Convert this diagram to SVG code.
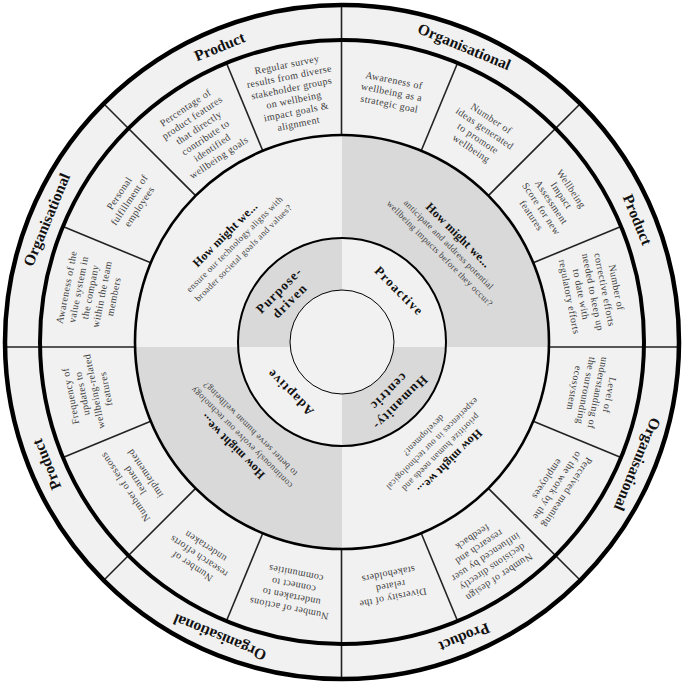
<svg xmlns="http://www.w3.org/2000/svg" width="685" height="685" viewBox="0 0 685 685">
<style>
.seg{font-family:"Liberation Serif","Times New Roman",serif;font-size:10px;letter-spacing:0.35px;fill:#404040;text-anchor:middle}
.lab{font-family:"Liberation Serif","Times New Roman",serif;font-size:15.5px;font-weight:bold;fill:#111;text-anchor:middle}
.hmw{font-family:"Liberation Serif","Times New Roman",serif;font-size:12px;font-weight:bold;letter-spacing:0.2px;fill:#111;text-anchor:middle}
.sub{font-family:"Liberation Serif","Times New Roman",serif;font-size:9px;letter-spacing:0.3px;fill:#444;text-anchor:middle}
.core{font-family:"Liberation Serif","Times New Roman",serif;font-size:13px;font-weight:bold;letter-spacing:1.2px;fill:#111;text-anchor:middle}
.div{stroke:#222;stroke-width:1.6}
.ring{fill:none;stroke:#000}
</style>
<defs>
<clipPath id="cTL"><rect x="0" y="0" width="342" height="347"/></clipPath>
<clipPath id="cTR"><rect x="342" y="0" width="343" height="347"/></clipPath>
<clipPath id="cBL"><rect x="0" y="347" width="342" height="338"/></clipPath>
<clipPath id="cBR"><rect x="342" y="347" width="343" height="338"/></clipPath>
</defs>
<g id="background">
<circle cx="342" cy="342" r="338" fill="#f1f1f1"/>
<circle cx="342" cy="342" r="207" fill="#d9d9d9" clip-path="url(#cTR)"/>
<circle cx="342" cy="342" r="207" fill="#d9d9d9" clip-path="url(#cBL)"/>
<circle cx="342" cy="342" r="104" fill="#f1f1f1"/>
<circle cx="342" cy="342" r="104" fill="#d9d9d9" clip-path="url(#cTL)"/>
<circle cx="342" cy="342" r="104" fill="#d9d9d9" clip-path="url(#cBR)"/>
<circle cx="342" cy="342" r="52" fill="#f1f1f1"/>
</g>
<g id="connectors">
<line class="div" x1="341.5" y1="4" x2="341.5" y2="135"/>
<line class="div" x1="341.5" y1="549" x2="341.5" y2="680"/>
<line class="div" x1="4" y1="347" x2="135" y2="347"/>
<line class="div" x1="549" y1="347" x2="680" y2="347"/>
<line class="div" x1="342" y1="4" x2="342" y2="135" transform="rotate(45 342 342)"/>
<line class="div" x1="342" y1="4" x2="342" y2="135" transform="rotate(135 342 342)"/>
<line class="div" x1="342" y1="4" x2="342" y2="135" transform="rotate(225 342 342)"/>
<line class="div" x1="342" y1="4" x2="342" y2="135" transform="rotate(315 342 342)"/>
<line class="div" x1="342" y1="40" x2="342" y2="135" transform="rotate(22.5 342 342)"/>
<line class="div" x1="342" y1="40" x2="342" y2="135" transform="rotate(67.5 342 342)"/>
<line class="div" x1="342" y1="40" x2="342" y2="135" transform="rotate(112.5 342 342)"/>
<line class="div" x1="342" y1="40" x2="342" y2="135" transform="rotate(157.5 342 342)"/>
<line class="div" x1="342" y1="40" x2="342" y2="135" transform="rotate(202.5 342 342)"/>
<line class="div" x1="342" y1="40" x2="342" y2="135" transform="rotate(247.5 342 342)"/>
<line class="div" x1="342" y1="40" x2="342" y2="135" transform="rotate(292.5 342 342)"/>
<line class="div" x1="342" y1="40" x2="342" y2="135" transform="rotate(337.5 342 342)"/>
</g>
<g id="rings">
<circle class="ring" cx="342" cy="342" r="337" stroke-width="4.5"/>
<circle class="ring" cx="342" cy="342" r="302" stroke-width="4"/>
<circle class="ring" cx="342" cy="342" r="207" stroke-width="2.6"/>
<circle class="ring" cx="342" cy="342" r="104" stroke-width="2"/>
<circle class="ring" cx="342" cy="342" r="52" stroke-width="1"/>
</g>
<g id="outer-labels">
<g id="label-1" transform="rotate(22.5 342 342)"><text class="lab" x="342" y="27.5">Organisational</text></g>
<g id="label-2" transform="rotate(67.5 342 342)"><text class="lab" x="342" y="27.5">Product</text></g>
<g id="label-3" transform="rotate(112.5 342 342)"><text class="lab" x="342" y="27.5">Organisational</text></g>
<g id="label-4" transform="rotate(157.5 342 342)"><text class="lab" x="342" y="27.5">Product</text></g>
<g id="label-5" transform="rotate(202.5 342 342)"><text class="lab" x="342" y="27.5">Organisational</text></g>
<g id="label-6" transform="rotate(247.5 342 342)"><text class="lab" x="342" y="27.5">Product</text></g>
<g id="label-7" transform="rotate(292.5 342 342)"><text class="lab" x="342" y="27.5">Organisational</text></g>
<g id="label-8" transform="rotate(337.5 342 342)"><text class="lab" x="342" y="27.5">Product</text></g>
</g>
<g id="segments">
<g id="seg-01" transform="rotate(11.25 342 342)"><text class="seg"><tspan x="342" y="78.5">Awareness of</tspan><tspan x="342" y="90.5">wellbeing as a</tspan><tspan x="342" y="102.5">strategic goal</tspan></text></g>
<g id="seg-02" transform="rotate(33.75 342 342)"><text class="seg"><tspan x="342" y="76.5">Number of</tspan><tspan x="342" y="88.5">ideas generated</tspan><tspan x="342" y="100.5">to promote</tspan><tspan x="342" y="112.5">wellbeing</tspan></text></g>
<g id="seg-03" transform="rotate(56.25 342 342)"><text class="seg"><tspan x="342" y="69.5">Wellbeing</tspan><tspan x="342" y="81.5">Impact</tspan><tspan x="342" y="93.5">Assessment</tspan><tspan x="342" y="105.5">Score for new</tspan><tspan x="342" y="117.5">features</tspan></text></g>
<g id="seg-04" transform="rotate(78.75 342 342)"><text class="seg"><tspan x="342" y="65.5">Number of</tspan><tspan x="342" y="77.5">corrective efforts</tspan><tspan x="342" y="89.5">needed to keep up</tspan><tspan x="342" y="101.5">to date with</tspan><tspan x="342" y="113.5">regulatory efforts</tspan></text></g>
<g id="seg-05" transform="rotate(101.25 342 342)"><text class="seg"><tspan x="342" y="72.5">Level of</tspan><tspan x="342" y="84.5">understanding of</tspan><tspan x="342" y="96.5">the surrounding</tspan><tspan x="342" y="108.5">ecosystem</tspan></text></g>
<g id="seg-06" transform="rotate(123.75 342 342)"><text class="seg"><tspan x="342" y="74.5">Perceived meaning</tspan><tspan x="342" y="86.5">of the work by the</tspan><tspan x="342" y="98.5">employees</tspan></text></g>
<g id="seg-07" transform="rotate(146.25 342 342)"><text class="seg"><tspan x="342" y="62.5">Number of design</tspan><tspan x="342" y="74.5">decisions directly</tspan><tspan x="342" y="86.5">influenced by user</tspan><tspan x="342" y="98.5">research and</tspan><tspan x="342" y="110.5">feedback</tspan></text></g>
<g id="seg-08" transform="rotate(168.75 342 342)"><text class="seg"><tspan x="342" y="84.5">Diversity of the</tspan><tspan x="342" y="96.5">related</tspan><tspan x="342" y="108.5">stakeholders</tspan></text></g>
<g id="seg-09" transform="rotate(191.25 342 342)"><text class="seg"><tspan x="342" y="73.5">Number of actions</tspan><tspan x="342" y="85.5">undertaken to</tspan><tspan x="342" y="97.5">connect to</tspan><tspan x="342" y="109.5">communities</tspan></text></g>
<g id="seg-10" transform="rotate(213.75 342 342)"><text class="seg"><tspan x="342" y="75.5">Number of</tspan><tspan x="342" y="87.5">research efforts</tspan><tspan x="342" y="99.5">undertaken</tspan></text></g>
<g id="seg-11" transform="rotate(236.25 342 342)"><text class="seg"><tspan x="342" y="84.5">Number of lessons</tspan><tspan x="342" y="96.5">learned</tspan><tspan x="342" y="108.5">implemented</tspan></text></g>
<g id="seg-12" transform="rotate(258.75 342 342)"><text class="seg"><tspan x="342" y="68.5">Frequency of</tspan><tspan x="342" y="80.5">updates to</tspan><tspan x="342" y="92.5">wellbeing-related</tspan><tspan x="342" y="104.5">features</tspan></text></g>
<g id="seg-13" transform="rotate(281.25 342 342)"><text class="seg"><tspan x="342" y="64.5">Awareness of the</tspan><tspan x="342" y="76.5">value system in</tspan><tspan x="342" y="88.5">the company</tspan><tspan x="342" y="100.5">within the team</tspan><tspan x="342" y="112.5">members</tspan></text></g>
<g id="seg-14" transform="rotate(303.75 342 342)"><text class="seg"><tspan x="342" y="77.5">Personal</tspan><tspan x="342" y="89.5">fulfillment of</tspan><tspan x="342" y="101.5">employees</tspan></text></g>
<g id="seg-15" transform="rotate(326.25 342 342)"><text class="seg"><tspan x="342" y="63.5">Percentage of</tspan><tspan x="342" y="75.5">product features</tspan><tspan x="342" y="87.5">that directly</tspan><tspan x="342" y="99.5">contribute to</tspan><tspan x="342" y="111.5">identified</tspan><tspan x="342" y="123.5">wellbeing goals</tspan></text></g>
<g id="seg-16" transform="rotate(348.75 342 342)"><text class="seg"><tspan x="342" y="62.5">Regular survey</tspan><tspan x="342" y="74.5">results from diverse</tspan><tspan x="342" y="86.5">stakeholder groups</tspan><tspan x="342" y="98.5">on wellbeing</tspan><tspan x="342" y="110.5">impact goals &amp;</tspan><tspan x="342" y="122.5">alignment</tspan></text></g>
</g>
<g id="how-might-we">
<g id="hmw-tl" transform="translate(225 234.5) rotate(-45)"><text class="hmw" x="0" y="4">How might we...</text><text class="sub"><tspan x="0" y="16.5">ensure our technology aligns with</tspan><tspan x="0" y="29">broader societal goals and values?</tspan></text></g>
<g id="hmw-tr" transform="translate(458.3 235) rotate(45)"><text class="hmw" x="0" y="4">How might we...</text><text class="sub"><tspan x="0" y="16.5">anticipate and address potential</tspan><tspan x="0" y="29">wellbeing impacts before they occur?</tspan></text></g>
<g id="hmw-br" transform="translate(450 461.7) rotate(135)"><text class="hmw" x="0" y="4">How might we...</text><text class="sub"><tspan x="0" y="16">prioritize human needs and</tspan><tspan x="0" y="28">experiences in our technological</tspan><tspan x="0" y="40">development?</tspan></text></g>
<g id="hmw-bl" transform="translate(232.3 446.7) rotate(225)"><text class="hmw" x="0" y="4">How might we...</text><text class="sub"><tspan x="0" y="16">continuously evolve our technology</tspan><tspan x="0" y="28">to better serve human wellbeing?</tspan></text></g>
</g>
<g id="core">
<g id="core-purpose" transform="translate(279 290) rotate(-45)"><text class="core"><tspan x="0" y="4.5">Purpose-</tspan><tspan x="0" y="19.5">driven</tspan></text></g>
<g id="core-proactive" transform="translate(399.2 290.8) rotate(45)"><text class="core" x="0" y="4.5">Proactive</text></g>
<g id="core-humanity" transform="translate(400.3 403.3) rotate(135)"><text class="core"><tspan x="0" y="4.5">Humanity-</tspan><tspan x="0" y="20.5">centric</tspan></text></g>
<g id="core-adaptive" transform="translate(290 392.5) rotate(225)"><text class="core" x="0" y="4.5">Adaptive</text></g>
</g>
</svg>
